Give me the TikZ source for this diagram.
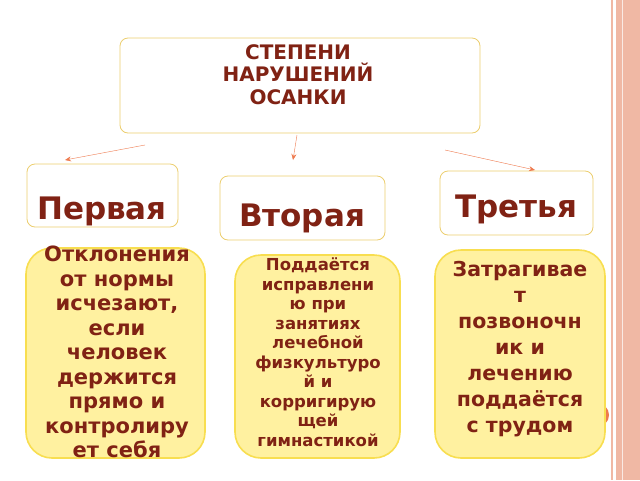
\documentclass[tikz,border=0pt]{standalone}
\usepackage{fontspec}
\setmainfont{DejaVu Sans}
\usetikzlibrary{arrows.meta,positioning}
\definecolor{txtred}{RGB}{128,34,20}
\definecolor{boxline}{RGB}{236,206,110}
\definecolor{noteline}{RGB}{248,222,80}
\definecolor{notefill}{RGB}{255,241,160}
\definecolor{arrowc}{RGB}{238,122,78}
\definecolor{stripe}{RGB}{240,184,164}
\tikzstyle{headbox} = [draw=boxline,fill=white,rounded corners=8pt,line width=0.8pt]
\tikzstyle{notebox} = [draw=noteline,fill=notefill,rounded corners=26pt,line width=1.6pt]
\tikzstyle{label} = [text=txtred,font=\bfseries,align=center]
\tikzset{>={Stealth[length=6pt,width=5pt]}}

\begin{document}
\begin{tikzpicture}[x=1pt,y=-1pt]
    \useasboundingbox (0,0) rectangle (640,480);
    % side stripe
    \fill [stripe] (616,0) rectangle (640,480);
    \draw [stripe,line width=1.5pt] (612,0) -- (612,480);
    \draw [white!70!stripe,line width=1pt] (622,0) -- (622,480);
    \fill [arrowc] (597,415) circle (12);

    \draw [headbox] (120,38) rectangle (480,133);
    \node [label,font=\bfseries\fontsize{20}{22.5}\selectfont,anchor=north] (title) at (298,41) {СТЕПЕНИ\\НАРУШЕНИЙ\\ОСАНКИ};

    \draw [headbox] (27,164) rectangle (178,227);
    \node [label,font=\bfseries\fontsize{31}{34}\selectfont] (first) at (102,211) {Первая};
    \draw [headbox] (220,176) rectangle (385,240);
    \node [label,font=\bfseries\fontsize{31}{34}\selectfont] (second) at (302,218) {Вторая};
    \draw [headbox] (440,171) rectangle (593,235);
    \node [label,font=\bfseries\fontsize{31}{34}\selectfont] (third) at (516,209) {Третья};

    \coordinate (a1) at (145,145);
    \coordinate (b1) at (65,160);
    \coordinate (a2) at (297,135);
    \coordinate (b2) at (293,160);
    \coordinate (a3) at (445,150);
    \coordinate (b3) at (535,170);
    \draw [arrowc,->] (a1) -- (b1);
    \draw [arrowc,->] (a2) -- (b2);
    \draw [arrowc,->] (a3) -- (b3);

    \draw [notebox] (26,248) rectangle (205,458);
    \node [label,font=\bfseries\fontsize{21}{24.5}\selectfont] (left) at (117,352) {Отклонения\\от нормы\\исчезают,\\если\\человек\\держится\\прямо и\\контролиру\\ет себя};
    \draw [notebox] (235,255) rectangle (400,458);
    \node [label,font=\bfseries\fontsize{16.5}{19.5}\selectfont] (middle) at (318,352) {Поддаётся\\исправлени\\ю при\\занятиях\\лечебной\\физкультуро\\й и\\корригирую\\щей\\гимнастикой};
    \draw [notebox] (435,250) rectangle (605,458);
    \node [label,font=\bfseries\fontsize{20.5}{26}\selectfont] (right) at (520,349) {Затрагивае\\т\\позвоночн\\ик и\\лечению\\поддаётся\\с трудом};
\end{tikzpicture}
\end{document}
